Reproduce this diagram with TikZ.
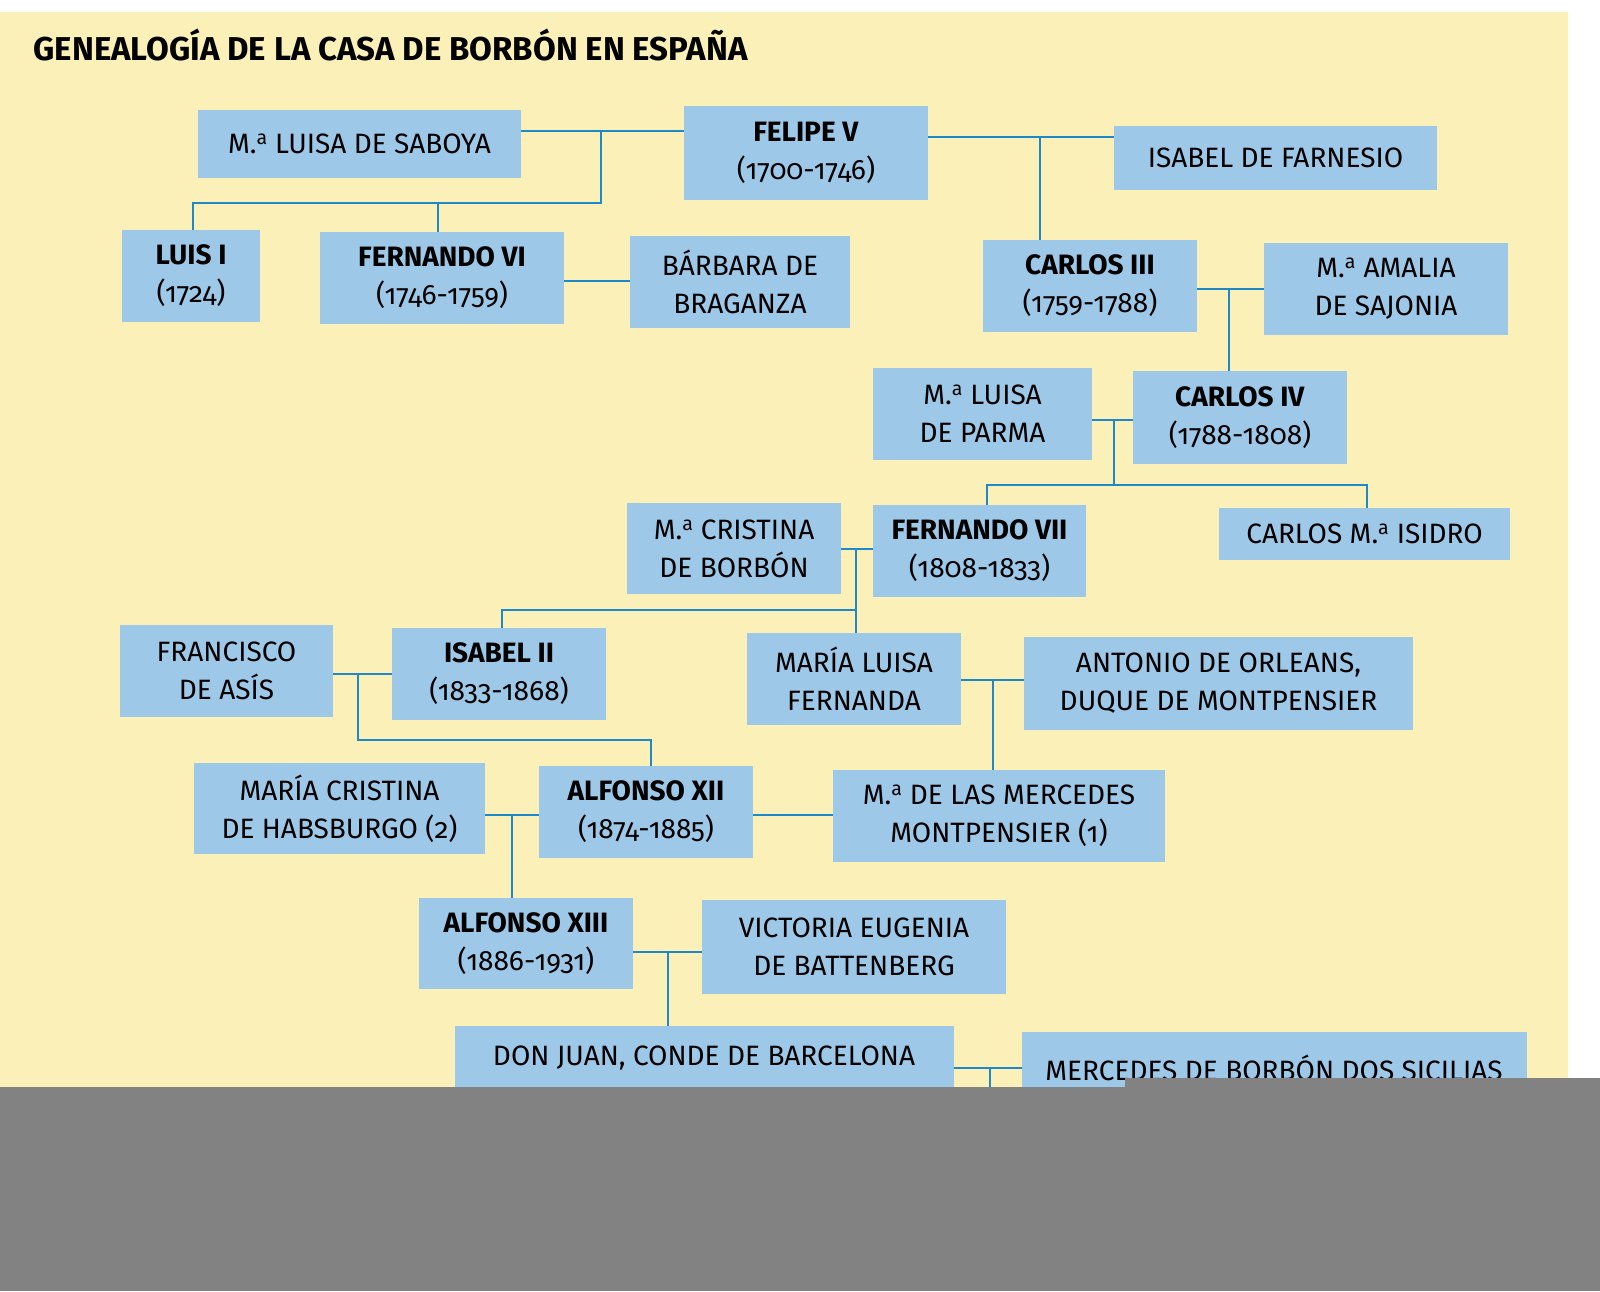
\documentclass[tikz,border=0pt]{standalone}
\usepackage{fontspec}
\setmainfont[Numbers=OldStyle]{Fira Sans}
\definecolor{bg}{HTML}{FBF0B8}
\definecolor{bx}{HTML}{9EC8E8}
\definecolor{ln}{HTML}{1E88C8}
\definecolor{gr}{HTML}{828282}
\newcommand{\ma}{M.\textsuperscript{a}}
\begin{document}
\begin{tikzpicture}[x=1pt,y=-1pt,
  box/.style={fill=bx,draw=none,align=center,inner sep=0pt,font=\fontsize{28}{38}\selectfont},
  con/.style={draw=ln,line width=2.8pt}]
\useasboundingbox (0,0) rectangle (1600,1291);
\fill[white] (0,0) rectangle (1600,1291);
\fill[bg] (0,12) rectangle (1568,1291);
\node[anchor=west,font=\fontsize{33}{38}\selectfont\bfseries] (title) at (30,45) {GENEALOGÍA DE LA CASA DE BORBÓN EN ESPAÑA};
\newcommand{\bx}[6]{\node[box,minimum width=#4-#2,minimum height=#5-#3] (#1) at ({(#2+#4)/2},{(#3+#5)/2}) {#6};}
\bx{sab}{198}{110}{521}{178}{\ma{} LUISA DE SABOYA}
\bx{fel}{684}{106}{928}{200}{\textbf{FELIPE V}\\(1700-1746)}
\bx{far}{1114}{126}{1437}{190}{ISABEL DE FARNESIO}
\bx{lui}{122}{230}{260}{322}{\textbf{LUIS I}\\(1724)}
\bx{fe6}{320}{232}{564}{324}{\textbf{FERNANDO VI}\\(1746-1759)}
\bx{bar}{630}{236}{850}{328}{BÁRBARA DE\\BRAGANZA}
\bx{c3}{983}{240}{1197}{332}{\textbf{CARLOS III}\\(1759-1788)}
\bx{ama}{1264}{243}{1508}{335}{\ma{} AMALIA\\DE SAJONIA}
\bx{par}{873}{368}{1092}{460}{\ma{} LUISA\\DE PARMA}
\bx{c4}{1133}{371}{1347}{464}{\textbf{CARLOS IV}\\(1788-1808)}
\bx{isi}{1219}{508}{1510}{560}{CARLOS \ma{} ISIDRO}
\bx{crb}{627}{503}{841}{594}{\ma{} CRISTINA\\DE BORBÓN}
\bx{fe7}{873}{505}{1086}{597}{\textbf{FERNANDO VII}\\(1808-1833)}
\bx{fra}{120}{625}{333}{717}{FRANCISCO\\DE ASÍS}
\bx{is2}{392}{628}{606}{720}{\textbf{ISABEL II}\\(1833-1868)}
\bx{mlf}{747}{633}{961}{725}{MARÍA LUISA\\FERNANDA}
\bx{ant}{1024}{637}{1413}{730}{ANTONIO DE ORLEANS,\\DUQUE DE MONTPENSIER}
\bx{mch}{194}{763}{485}{854}{MARÍA CRISTINA\\DE HABSBURGO (2)}
\bx{a12}{539}{766}{753}{858}{\textbf{ALFONSO XII}\\(1874-1885)}
\bx{mer}{833}{770}{1165}{862}{\ma{} DE LAS MERCEDES\\MONTPENSIER (1)}
\bx{a13}{419}{898}{633}{989}{\textbf{ALFONSO XIII}\\(1886-1931)}
\bx{vic}{702}{900}{1006}{994}{VICTORIA EUGENIA\\DE BATTENBERG}
\bx{jua}{455}{1026}{954}{1092}{}
\bx{mbs}{1022}{1032}{1527}{1092}{}
\node[font=\fontsize{28}{38}\selectfont] (juat) at (704,1058) {DON JUAN, CONDE DE BARCELONA};
\node[font=\fontsize{28}{38}\selectfont] (mbst) at (1274,1068) {MERCEDES DE BORBÓN DOS SICILIAS};
% connectors
\draw[con] (sab.east|-0,131) -- (fel.west|-0,131);
\draw[con] (601,131) -- (601,203) -- (193,203) -- (lui.north-|193,0);
\draw[con] (438,203) -- (fe6.north-|438,0);
\draw[con] (fel.east|-0,137) -- (far.west|-0,137);
\draw[con] (1040,137) -- (c3.north-|1040,0);
\draw[con] (fe6.east|-0,281) -- (bar.west|-0,281);
\draw[con] (c3.east|-0,289) -- (ama.west|-0,289);
\draw[con] (1229,289) -- (c4.north-|1229,0);
\draw[con] (par.east|-0,420) -- (c4.west|-0,420);
\draw[con] (1114,420) -- (1114,485);
\draw[con] (fe7.north-|987,0) -- (987,485) -- (1367,485) -- (isi.north-|1367,0);
\draw[con] (crb.east|-0,549) -- (fe7.west|-0,549);
\draw[con] (856,549) -- (mlf.north-|856,0);
\draw[con] (856,610) -- (502,610) -- (is2.north-|502,0);
\draw[con] (fra.east|-0,674) -- (is2.west|-0,674);
\draw[con] (358,674) -- (358,740) -- (651,740) -- (a12.north-|651,0);
\draw[con] (mlf.east|-0,680) -- (ant.west|-0,680);
\draw[con] (993,680) -- (mer.north-|993,0);
\draw[con] (mch.east|-0,815) -- (a12.west|-0,815);
\draw[con] (512,815) -- (a13.north-|512,0);
\draw[con] (a12.east|-0,815) -- (mer.west|-0,815);
\draw[con] (a13.east|-0,952) -- (vic.west|-0,952);
\draw[con] (668,952) -- (jua.north-|668,0);
\draw[con] (jua.east|-0,1068) -- (mbs.west|-0,1068);
\draw[con] (990,1068) -- (990,1100);
\fill[gr] (0,1087) rectangle (1600,1291);
\fill[gr] (1125,1078) rectangle (1600,1087);
\end{tikzpicture}
\end{document}
